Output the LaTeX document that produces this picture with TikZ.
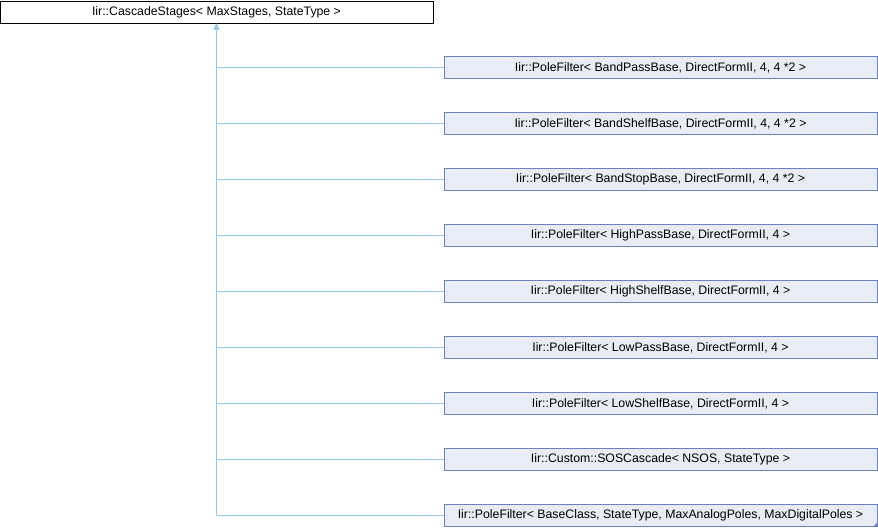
\documentclass[tikz,border=0pt]{standalone}
\usepackage{fontspec}
\setmainfont{Liberation Sans}
\usetikzlibrary{arrows.meta}
\definecolor{boxfill}{RGB}{232,236,245}
\definecolor{boxline}{RGB}{108,130,192}
\definecolor{edgeblue}{RGB}{150,200,232}
\tikzset{
	classbox/.style={draw=black, minimum width=433pt, minimum height=22pt, inner sep=0pt, font=\fontsize{12.3}{14}\selectfont},
	derived/.style={classbox, draw=boxline, fill=boxfill},
	inherit/.style={draw=edgeblue, line width=0.9pt, -{Triangle[length=6pt,width=5pt]}}
}
\begin{document}
\begin{tikzpicture}[x=1pt,y=-1pt]
		\useasboundingbox (0,0) rectangle (878,528);
		\node[classbox] (cascade) at (216.5,12.5) {Iir::CascadeStages< MaxStages, StateType >};
		\foreach \name/\txt [count=\i] in {
			bandpass/{Iir::PoleFilter< BandPassBase, DirectFormII, 4, 4 *2 >},
			bandshelf/{Iir::PoleFilter< BandShelfBase, DirectFormII, 4, 4 *2 >},
			bandstop/{Iir::PoleFilter< BandStopBase, DirectFormII, 4, 4 *2 >},
			highpass/{Iir::PoleFilter< HighPassBase, DirectFormII, 4 >},
			highshelf/{Iir::PoleFilter< HighShelfBase, DirectFormII, 4 >},
			lowpass/{Iir::PoleFilter< LowPassBase, DirectFormII, 4 >},
			lowshelf/{Iir::PoleFilter< LowShelfBase, DirectFormII, 4 >},
			sos/{Iir::Custom::SOSCascade< NSOS, StateType >},
			polefilter/{Iir::PoleFilter< BaseClass, StateType, MaxAnalogPoles, MaxDigitalPoles >}}
		{
			\node[derived] (\name) at (660.5,{67.5+56*(\i-1)}) {\txt};
			\draw[inherit] (\name.west) -| (cascade.south);
		}
		% small fold mark of the last box
		\fill[boxline] (polefilter.south east) -- ++(-4,0) -- ++(4,-4) -- cycle;
	\end{tikzpicture}
\end{document}
